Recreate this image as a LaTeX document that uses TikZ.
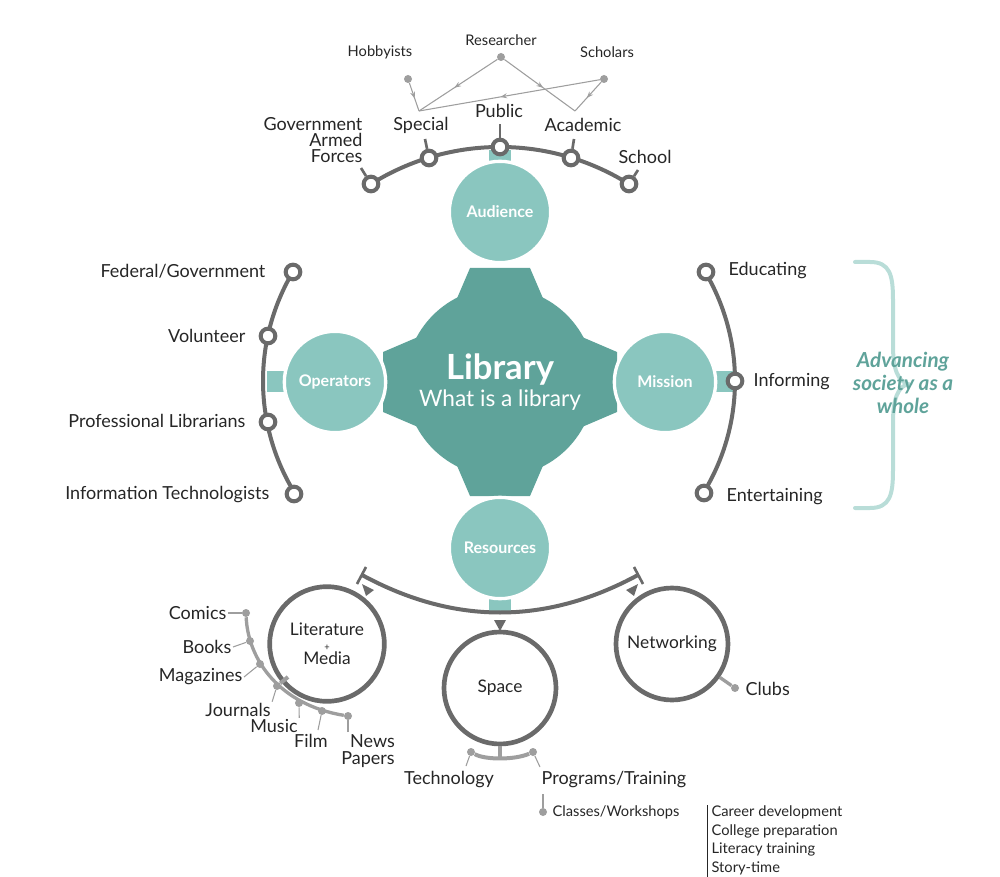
\documentclass[tikz,border=0pt]{standalone}
\usepackage{fontspec}
\setmainfont{Lato}
\usetikzlibrary{decorations.markings,arrows.meta}
\definecolor{dteal}{HTML}{5FA39A}
\definecolor{lteal}{HTML}{8AC6BF}
\definecolor{bteal}{HTML}{B9DDD8}
\definecolor{dgrey}{HTML}{6A6A6A}
\definecolor{lgrey}{HTML}{9E9E9E}
\definecolor{txt}{HTML}{262626}
\begin{document}
\begin{tikzpicture}[x=0.75pt,y=-0.75pt,
  sat/.style={circle,fill=lteal,draw=white,line width=2.5pt,minimum size=76pt,inner sep=0pt,text=white,font=\bfseries\fontsize{12}{13}\selectfont},
  ring/.style={circle,fill=white,draw=dgrey,line width=3pt,minimum size=11pt,inner sep=0pt},
  arcl/.style={draw=dgrey,line width=3pt},
  lab/.style={text=txt,font=\fontsize{13.5}{14}\selectfont,inner sep=1pt},
  slab/.style={text=txt,font=\fontsize{11}{12}\selectfont,inner sep=1pt},
  big/.style={circle,draw=dgrey,line width=3.5pt,fill=white,inner sep=0pt,text=txt,font=\fontsize{13}{13}\selectfont,align=center},
  dot/.style={circle,fill=lgrey,inner sep=0pt,minimum size=6pt},
  thin/.style={draw=lgrey,line width=0.8pt},
  midarr/.style={thin,decoration={markings,mark=at position 0.55 with {\arrow{Stealth[length=5pt]}}},postaction=decorate}]
\useasboundingbox (0,0) rectangle (1000,877);
% ---- centre
\fill[dteal] (470,268)--(530,268)--(548,310)--(452,310)--cycle;
\fill[dteal] (470,496)--(530,496)--(548,454)--(452,454)--cycle;
\fill[dteal] (383,352)--(383,412)--(425,430)--(425,334)--cycle;
\fill[dteal] (617,352)--(617,412)--(575,430)--(575,334)--cycle;
\node[circle,fill=dteal,minimum size=142pt,inner sep=0pt,text=white,align=center] (lib) at (500,382)
  {{\bfseries\fontsize{26}{28}\selectfont Library}\\[3pt]{\fontsize{17}{19}\selectfont What is a library}};
% tabs
\fill[lteal] (489,150) rectangle (511,180);
\fill[lteal] (267,371) rectangle (300,392);
\fill[lteal] (700,371) rectangle (735,392);
\fill[lteal] (489,585) rectangle (511,612);
\node[sat] (aud) at (500,212) {Audience};
\node[sat] (ope) at (335,382) {Operators};
\node[sat] (mis) at (665,382) {Mission};
\node[sat] (res) at (500,548) {Resources};
% ---- top arc
\draw[arcl] (371.2,183.9) arc[start angle=238,end angle=302,radius=243];
\node[ring] (gov) at (371,184) {};
\node[ring] (spe) at (429,158) {};
\node[ring] (pub) at (500,147) {};
\node[ring] (aca) at (571,158) {};
\node[ring] (sch) at (629,184) {};
\draw[arcl,line width=2pt] (gov) -- (361,168);
\draw[arcl,line width=2pt] (spe) -- (425,139);
\draw[arcl,line width=2pt] (pub) -- (500,124);
\draw[arcl,line width=2pt] (aca) -- (574,139);
\draw[arcl,line width=2pt] (sch) -- (638,170);
\node[lab,anchor=east,align=right,font=\fontsize{13.5}{12}\selectfont] (govl) at (364,140) {Government\\Armed\\Forces};
\node[lab] (spel) at (421,125) {Special};
\node[lab] (publ) at (499,111) {Public};
\node[lab] (acal) at (583,125) {Academic};
\node[lab] (schl) at (645,157) {School};
\coordinate (spp) at (419,111);
\coordinate (acp) at (575,111);
\node[dot] (hob) at (408,79) {};
\node[dot] (rese) at (501,57) {};
\node[dot] (scho) at (604,79) {};
\node[slab] at (380,52) {Hobbyists};
\node[slab] at (501,40) {Researcher};
\node[slab] at (607,52) {Scholars};
\draw[midarr] (hob) -- (spp);
\draw[midarr] (rese) -- (spp);
\draw[midarr] (scho) -- (spp);
\draw[midarr] (rese) -- (acp);
\draw[midarr] (scho) -- (acp);
% ---- left arc
\draw[arcl] (292.8,272) arc[start angle=210.6,end angle=148.5,radius=214];
\node[ring] (fed) at (293,272) {};
\node[ring] (vol) at (268,336) {};
\node[ring] (pro) at (268,422) {};
\node[ring] (inf) at (294,494) {};
\node[lab,anchor=east] at (267,271) {Federal/Government};
\node[lab,anchor=east] at (247,336) {Volunteer};
\node[lab,anchor=east] at (247,421) {Professional Librarians};
\node[lab,anchor=east] at (271,495) {Information Technologists};
% ---- right arc
\draw[arcl] (705.2,272) arc[start angle=-30.6,end angle=31.5,radius=214];
\node[ring] (edu) at (706,272) {};
\node[ring] (infm) at (735,381) {};
\node[ring] (ent) at (704,493) {};
\node[lab,anchor=west] at (727,271) {Educating};
\node[lab,anchor=west] at (752,382) {Informing};
\node[lab,anchor=west] at (725,497) {Entertaining};
% bracket
\draw[bteal,line width=3pt,line cap=round] (855,262) -- (870,262) .. controls (890,262) and (893,275) .. (893,300) -- (893,345) .. controls (893,370) and (898,381) .. (908,384) .. controls (898,387) and (893,398) .. (893,423) -- (893,470) .. controls (893,495) and (890,508) .. (870,508) -- (855,508);
\node[text=dteal,font=\bfseries\itshape\fontsize{15.5}{17}\selectfont,align=center] (adv) at (903,383) {Advancing\\society as a\\whole};
% ---- bottom
\draw[arcl] (362,575) .. controls (454,625) and (546,625) .. (638,575);
\draw[arcl,line width=2pt] (357,584) -- (366,567);
\draw[arcl,line width=2pt] (643,584) -- (634,567);
\node[big,minimum size=86pt] (lit) at (327,644) {Literature\\[-2pt]{\fontsize{7}{7}\selectfont+}\\[-2pt]Media};
\node[big,minimum size=84pt] (spa) at (500,688) {Space};
\node[big,minimum size=84pt] (net) at (672,644) {Networking};
\fill[dgrey] (362,584) -- (374,590) -- (366,596) -- cycle;
\fill[dgrey] (494,620) -- (506,620) -- (500,631) -- cycle;
\fill[dgrey] (638,584) -- (626,590) -- (634,596) -- cycle;
% clubs
\node[dot] (clu) at (735,688) {};
\draw[lgrey,line width=2.5pt] (net) -- (clu);
\node[lab,anchor=west] at (744,689) {Clubs};
% literature chain
\node[dot] (com) at (246,613) {};
\node[dot] (boo) at (250,641) {};
\node[dot] (mag) at (260,664) {};
\node[dot] (jou) at (277,686) {};
\node[dot] (mus) at (299,703) {};
\node[dot] (fil) at (322,711) {};
\node[dot] (new) at (348,716) {};
\draw[lgrey,line width=2.5pt] (com) .. controls (248,660) and (280,705) .. (new);
\draw[lgrey,line width=3pt] (jou) -- (288,677);
\node[lab,anchor=east] (coml) at (228,613) {Comics};
\node[lab,anchor=east] (bool) at (233,647) {Books};
\node[lab,anchor=east] (magl) at (244,677) {Magazines};
\node[lab] (joul) at (238,710) {Journals};
\node[lab] (musl) at (274,726) {Music};
\node[lab] (fill) at (311,741) {Film};
\node[lab,align=center,font=\fontsize{13.5}{13}\selectfont] (newl) at (368,751) {\ \ News\\Papers};
\draw[thin] (coml.east) -- (com);
\draw[thin] (bool.east) -- (boo);
\draw[thin] (magl.east) -- (mag);
\draw[thin] (joul.north east) -- (jou);
\draw[thin] (musl.north east) -- (mus);
\draw[thin] (318,730) -- (fil);
\draw[thin] (348,732) -- (new);
% space children
\node[dot] (tec) at (471,752) {};
\node[dot] (prg) at (533,752) {};
\draw[lgrey,line width=2.5pt] (spa.south) -- (500,759);
\draw[lgrey,line width=3pt] (tec) .. controls (485,760) and (515,760) .. (prg);
\node[lab] (tecl) at (449,780) {Technology};
\node[lab] (prgl) at (614,780) {Programs/Training};
\draw[thin] (tec) -- (466,766);
\draw[thin] (prg) -- (540,767);
\node[dot] (cls) at (543,812) {};
\draw[thin] (543,794) -- (cls);
\node[slab,anchor=west] (clsl) at (551,812) {Classes/Workshops};
\draw[draw=txt,line width=0.6pt] (707,805) -- (707,877);
\node[slab,anchor=north west,align=left,font=\fontsize{11}{14}\selectfont] at (710,804) {Career development\\College preparation\\Literacy training\\Story-time};
\end{tikzpicture}
\end{document}
